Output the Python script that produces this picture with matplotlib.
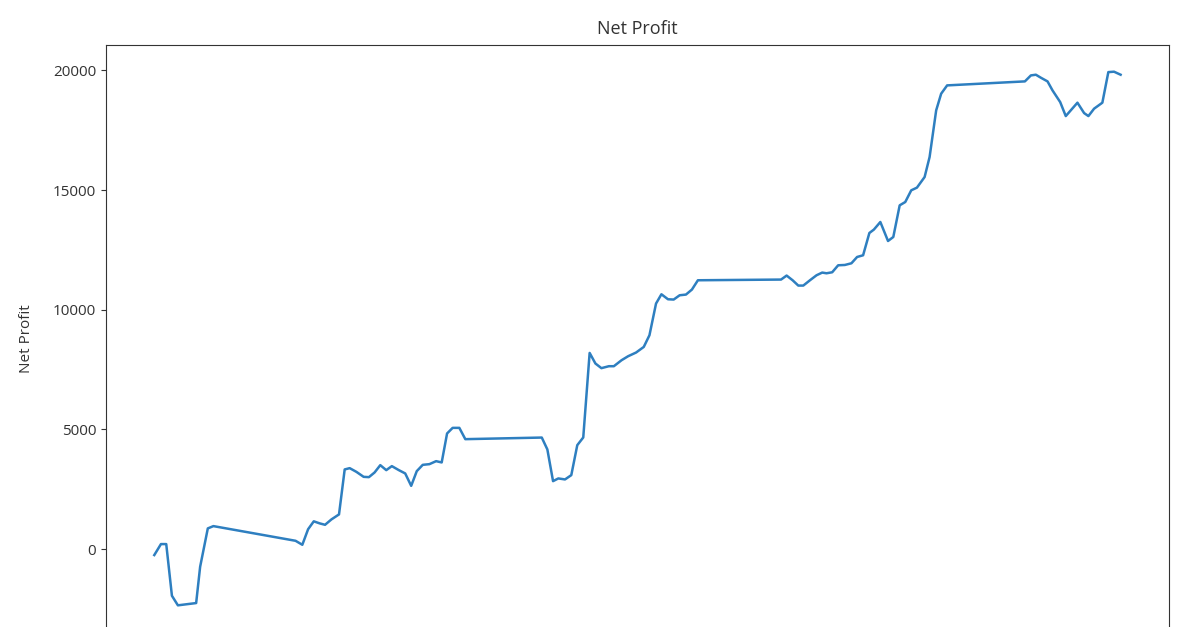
import matplotlib
matplotlib.use('Agg')
import matplotlib.pyplot as plt

# time offset of each closed trade (days from first trade, approx.)
days = [0, 6.7, 12, 17.7, 23.7, 42, 46, 53.7, 59.3, 141.7,
        148.5, 154.3, 160, 166, 171.3, 177.7, 185.3, 191, 196, 202.7,
        210, 215.3, 221, 226.7, 232.7, 238.3, 245.3, 251.7, 257.7, 263.3,
        269.3, 276, 282.7, 288.3, 293.7, 299.3, 306, 312, 388.7, 394.3,
        400, 405.3, 412, 418.3, 424.3, 430.3, 436.7, 442.5, 448.5, 456,
        461, 468.7, 475.3, 483.3, 491, 496.7, 503.3, 508.7, 515.3, 521,
        527, 533.3, 539.3, 545.3, 628.7, 634.3, 640.3, 646, 651, 657.7,
        664.3, 670, 674.3, 680, 686, 692.7, 699.3, 705, 711, 717.3,
        721.8, 728.3, 736, 741.3, 747.7, 753.3, 759.3, 765, 772.7, 777.7,
        784.3, 789.3, 795.3, 873.3, 879.3, 884.3, 889.3, 896, 901, 908.7,
        914.3, 926, 932.7, 937, 942.7, 951, 957, 962.7, 969.3]

net_profit = [-250, 209, 209, -1950, -2350, -2255, -739, 864, 960, 347,
              180, 830, 1160, 1073, 1015, 1240, 1449, 3328, 3382, 3228,
              3019, 3006, 3202, 3507, 3299, 3466, 3299, 3161, 2643, 3257,
              3520, 3549, 3674, 3620, 4831, 5065, 5065, 4593, 4660, 4163,
              2839, 2952, 2910, 3090, 4342, 4664, 8196, 7754, 7560, 7641,
              7641, 7891, 8058, 8213, 8447, 8935, 10259, 10647, 10438, 10426,
              10605, 10634, 10843, 11232, 11261, 11428, 11232, 11010, 11010, 11232,
              11441, 11553, 11524, 11566, 11858, 11871, 11942, 12205, 12276, 13207,
              13349, 13666, 12873, 13040, 14363, 14501, 14990, 15102, 15545, 16380,
              18330, 19027, 19374, 19541, 19791, 19820, 19695, 19541, 19165, 18677,
              18092, 18651, 18217, 18092, 18401, 18651, 19929, 19946, 19820]

plt.rcParams['font.family'] = ['Open Sans', 'DejaVu Sans']
plt.rcParams['text.color'] = '#333333'
plt.rcParams['axes.labelcolor'] = '#333333'
plt.rcParams['axes.edgecolor'] = '#333333'
plt.rcParams['xtick.color'] = '#333333'
plt.rcParams['ytick.color'] = '#333333'

fig = plt.figure(figsize=(12, 6.27), dpi=100)
# the original figure is cut off at the bottom, so the axes (and the
# x tick labels) run past the edge
ax = fig.add_axes([0.0883, -0.008, 0.8858, 0.9362])

ax.plot(days, net_profit, color='#2e7fc0', linewidth=1.8)

ax.set_title('Net Profit', fontsize=13, pad=8)
ax.set_ylabel('Net Profit', fontsize=11, labelpad=14)
ax.set_yticks([0, 5000, 10000, 15000, 20000])
ax.tick_params(axis='both', labelsize=11)

fig.savefig('out.png', dpi=100)
